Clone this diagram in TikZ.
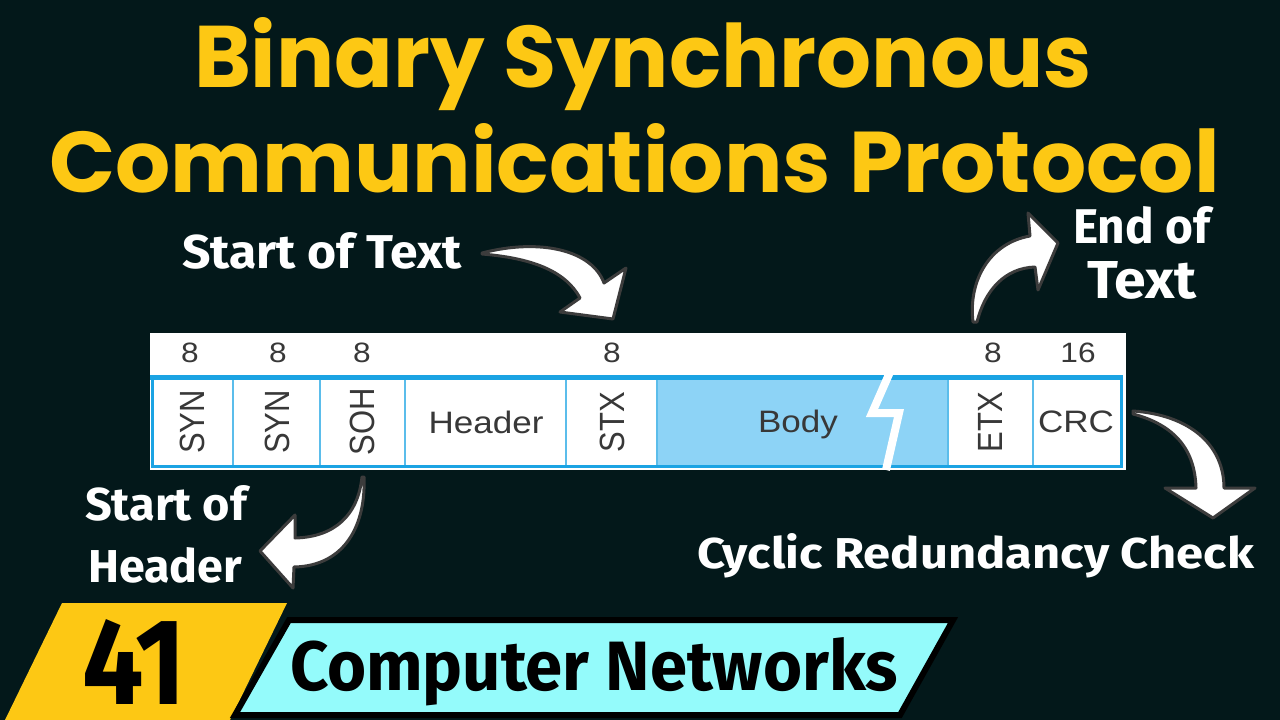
\documentclass[tikz,border=0pt]{standalone}
\usepackage{fontspec}
\usepackage{graphicx}
\newfontfamily\titlefont{Poppins}
\newfontfamily\labfont{Fira Sans}
\newfontfamily\cellfont{Liberation Sans}
\definecolor{bg}{HTML}{03181A}
\definecolor{ttlyellow}{HTML}{FDC814}
\definecolor{bandcyan}{HTML}{94FBFB}
\definecolor{frameblue}{HTML}{1BA3E3}
\definecolor{divblue}{HTML}{5BBDEB}
\definecolor{bodyblue}{HTML}{8DD3F6}
\definecolor{celltext}{HTML}{383838}
\definecolor{arrgray}{HTML}{3C3C3C}
\newcommand\fitto[3]{\resizebox{#1pt}{#2pt}{#3}}
\newcommand\hstretch[1]{\scalebox{1.13}[1]{#1}}
\newcommand\vstretch[1]{\scalebox{1}[1.13]{#1}}
\begin{document}
\begin{tikzpicture}[x=1pt,y=-1pt,
 fitlbl/.style={anchor=base west, inner sep=0pt, outer sep=0pt},
 cellh/.style={inner sep=0pt, text=celltext, font=\cellfont\fontsize{31}{31}\selectfont},
 cellv/.style={cellh, rotate=90},
 bitnum/.style={inner sep=0pt, text=celltext, font=\cellfont\fontsize{28}{28}\selectfont},
 blockarrow/.style={fill=white, draw=arrgray, line width=3pt, line join=round},
 divider/.style={draw=divblue, line width=2pt}]
\useasboundingbox (0,0) rectangle (1280,720);
\fill[bg] (0,0) rectangle (1280,720);

% title
\node[fitlbl, text=ttlyellow] (title1) at (194,87) {\fitto{897}{70}{\titlefont\bfseries Binary Synchronous}};
\node[fitlbl, text=ttlyellow] (title2) at (49,192) {\fitto{1170}{69}{\titlefont\bfseries Communications Protocol}};

% frame
\fill[white] (150,333) rectangle (1126,470);
\fill[bodyblue] (657,377) rectangle (948,466);
\foreach \xx in {233,320,405,566,657,948,1033}
  \draw[divider] (\xx,377) -- (\xx,466);
\draw[frameblue, line width=3pt] (152,377) rectangle (1121,466);
\draw[frameblue, line width=5pt] (150,377) -- (1123,377);
\draw[white, line width=8pt, miter limit=10] (890,372) -- (872,413) -- (899,413) -- (886,470);

% bit counts
\node[bitnum] (b1) at (190,353) {\hstretch{8}};
\node[bitnum] (b2) at (278,353) {\hstretch{8}};
\node[bitnum] (b3) at (362,353) {\hstretch{8}};
\node[bitnum] (b4) at (612,353) {\hstretch{8}};
\node[bitnum] (b5) at (993,353) {\hstretch{8}};
\node[bitnum] (b6) at (1078,353) {\hstretch{16}};

% cells
\node[cellv] (syn1) at (192,422) {\vstretch{SYN}};
\node[cellv] (syn2) at (277,422) {\vstretch{SYN}};
\node[cellv] (soh) at (362,422) {\vstretch{SOH}};
\node[cellh] (hdr) at (486,422) {\hstretch{Header}};
\node[cellv] (stx) at (612,422) {\vstretch{STX}};
\node[cellh] (body) at (798,424) {\hstretch{Body}};
\node[cellv] (etx) at (990,422) {\vstretch{ETX}};
\node[cellh] (crc) at (1076,422) {\hstretch{CRC}};

% block arrows
\draw[blockarrow] (482,253) .. controls (540,238) and (592,250) .. (604,283)
   -- (626,268) -- (613,319) -- (560,312) -- (580,298)
   .. controls (565,270) and (530,258) .. (482,254) -- cycle;
\draw[blockarrow] (973,322) .. controls (968,280) and (990,243) .. (1030,236)
   -- (1028,213) -- (1058,243) -- (1038,290) -- (1035,267)
   .. controls (1005,268) and (985,290) .. (977,322) -- cycle;
\draw[blockarrow] (362,477) .. controls (358,515) and (335,537) .. (295,538)
   -- (295,515) -- (260,551) -- (293,588) -- (294,567)
   .. controls (345,566) and (366,525) .. (364,477) -- cycle;
\draw[blockarrow] (1133,411) .. controls (1190,415) and (1224,445) .. (1224,488)
   -- (1255,488) -- (1213,518) -- (1165,488) -- (1196,488)
   .. controls (1195,450) and (1175,425) .. (1133,414) -- cycle;

% labels
\node[fitlbl, text=white] (lstx) at (182,268) {\fitto{280}{36}{\labfont\bfseries Start of Text}};
\node[fitlbl, text=white] (letx1) at (1073,243) {\fitto{137}{37}{\labfont\bfseries End of}};
\node[fitlbl, text=white] (letx2) at (1087,298) {\fitto{110}{37}{\labfont\bfseries Text}};
\node[fitlbl, text=white] (lsoh1) at (85,520) {\fitto{162}{35}{\labfont\bfseries Start of}};
\node[fitlbl, text=white] (lsoh2) at (88,582) {\fitto{154}{35}{\labfont\bfseries Header}};
\node[fitlbl, text=white] (lcrc) at (697,568) {\fitto{557}{35}{\labfont\bfseries Cyclic Redundancy Check}};

% bottom band
\fill[ttlyellow] (62,603) -- (287,603) -- (230,720) -- (5,720) -- cycle;
\draw[fill=bandcyan, draw=black, line width=6pt] (289,620) -- (953,620) -- (900,715) -- (235,715) -- cycle;
\node[fitlbl, text=black] (num) at (82,704) {\fitto{104}{85}{\labfont\bfseries 41}};
\node[fitlbl, text=black] (course) at (290,690) {\fitto{608}{53}{\labfont\bfseries Computer Networks}};
\end{tikzpicture}
\end{document}
